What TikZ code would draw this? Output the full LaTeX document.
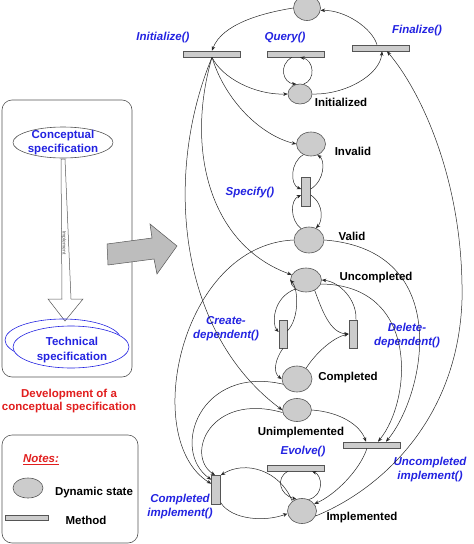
\documentclass[tikz,border=0pt]{standalone}
\usepackage{fontspec}
\setmainfont{Liberation Sans}
\usetikzlibrary{arrows.meta,shapes.geometric}
\definecolor{lblue}{RGB}{35,35,225}
\definecolor{lred}{RGB}{225,30,30}
\definecolor{sfill}{RGB}{204,204,204}
\definecolor{sline}{RGB}{85,85,85}
\begin{document}
\begin{tikzpicture}[x=1pt,y=-1pt,
  font=\fontsize{11.5}{14}\selectfont\bfseries,
  state/.style={ellipse,draw=sline,fill=sfill,line width=0.6pt,inner sep=0pt},
  method/.style={rectangle,draw=sline,fill=sfill,line width=0.6pt,inner sep=0pt},
  mlbl/.style={text=lblue,font=\fontsize{11.5}{14}\selectfont\bfseries\itshape,align=center},
  arc/.style={draw=black!85,line width=0.5pt,-{Stealth[length=4.5pt,width=3.6pt]}},
  panel/.style={draw=sline,line width=0.6pt,rounded corners=10pt}
]
\useasboundingbox (0,0) rectangle (474,544);

% ---------- left panel ----------
\draw[panel] (2,100) rectangle (132,377);
\node[ellipse,draw=sline,fill=white,line width=0.6pt,minimum width=100pt,minimum height=31pt,inner sep=0pt] (cs) at (63,142.5) {};
\node[text=lblue,align=center,font=\fontsize{11.5}{14.5}\selectfont\bfseries] (cstext) at (cs) {Conceptual\\specification};
\draw[sline,fill=white,line width=0.5pt] (61,159) -- (65,159) -- (71,299) -- (83,299) -- (65,321) -- (48,299) -- (62,299) -- cycle;
\node[rotate=-90,font=\fontsize{5}{6}\selectfont,text=black!70] (impltext) at (64,243) {Implement};
\node[ellipse,draw=lblue,line width=0.6pt,minimum width=116pt,minimum height=42pt,inner sep=0pt] (tsback) at (63,340) {};
\node[text=lblue,align=center,font=\fontsize{11.5}{14.5}\selectfont\bfseries] (tsbacktext) at (63,343) {Technical\\specification};
\node[ellipse,draw=lblue,fill=white,line width=0.6pt,minimum width=116pt,minimum height=42pt,inner sep=0pt] (ts) at (71,347) {};
\node[text=lblue,align=center,font=\fontsize{11.5}{14.5}\selectfont\bfseries] (tstext) at (72,350) {Technical\\specification};
\node[text=lred,align=center,font=\fontsize{11.5}{13.5}\selectfont\bfseries] (dev) at (69,401) {Development of a\\conceptual specification};

% big gray arrow
\draw[sline,fill=black!26,line width=0.5pt] (107,244) -- (152,238) -- (150,224) -- (177,246) -- (157,274) -- (154,259) -- (108,265) -- cycle;

% notes box
\draw[panel] (2,435) rectangle (138,543);
\node[text=lred,font=\fontsize{11.5}{14}\selectfont\bfseries\itshape] (notes) at (41,460) {\underline{Notes:}};
\node[state,minimum width=30pt,minimum height=20pt] (legS) at (28,488) {};
\node (legStext) at (94,493) {Dynamic state};
\node[method,minimum width=43pt,minimum height=5pt] (legM) at (27,518) {};
\node (legMtext) at (86,520) {Method};

% ---------- states ----------
\node[state,minimum width=27pt,minimum height=25pt] (top) at (307,8) {};
\node[state,minimum width=24pt,minimum height=20pt] (init) at (300,94) {};
\node[state,minimum width=29pt,minimum height=24pt] (invalid) at (311,144) {};
\node[state,minimum width=30pt,minimum height=26pt] (valid) at (309,240) {};
\node[state,minimum width=31pt,minimum height=24pt] (unc) at (306,280) {};
\node[state,minimum width=30pt,minimum height=26pt] (comp) at (297,379) {};
\node[state,minimum width=29pt,minimum height=23pt] (unimp) at (297,410) {};
\node[state,minimum width=29pt,minimum height=25pt] (impl) at (302,511) {};

% ---------- methods ----------
\node[method,minimum width=57pt,minimum height=6pt] (mInit) at (212,54) {};
\node[method,minimum width=57pt,minimum height=6pt] (mQuery) at (296,54) {};
\node[method,minimum width=57pt,minimum height=6pt] (mFin) at (381,48) {};
\node[method,minimum width=9pt,minimum height=29pt] (mSpec) at (306,192) {};
\node[method,minimum width=8pt,minimum height=28pt] (mCreate) at (283,334) {};
\node[method,minimum width=8pt,minimum height=28pt] (mDelete) at (353,334) {};
\node[method,minimum width=57pt,minimum height=6pt] (mUncImpl) at (372,445) {};
\node[method,minimum width=57pt,minimum height=6pt] (mEvolve) at (296,468) {};
\node[method,minimum width=9pt,minimum height=29pt] (mCompImpl) at (216,490) {};

% ---------- labels ----------
\node (lInit) at (341,102) {Initialized};
\node (lInvalid) at (353,151) {Invalid};
\node (lValid) at (352,236) {Valid};
\node (lUnc) at (376,278) {Uncompleted};
\node (lComp) at (348,378) {Completed};
\node (lUnimp) at (301,433) {Unimplemented};
\node (lImpl) at (362,518) {Implemented};
\node[mlbl] (lmInit) at (163,38) {Initialize()};
\node[mlbl] (lmQuery) at (285,38) {Query()};
\node[mlbl] (lmFin) at (417,31) {Finalize()};
\node[mlbl] (lmSpec) at (250,193) {Specify()};
\node[mlbl] (lmCreate) at (226,329) {Create-\\dependent()};
\node[mlbl] (lmDelete) at (407,336) {Delete-\\dependent()};
\node[mlbl] (lmUncImpl) at (430,470) {Uncompleted\\implement()};
\node[mlbl] (lmEvolve) at (303,452) {Evolve()};
\node[mlbl] (lmCompImpl) at (180,507) {Completed\\implement()};

% ---------- connectors ----------
\draw[arc] (top.west) .. controls (262,13) and (222,24) .. (mInit.north);
\draw[arc] ([xshift=-4pt]mFin.north) .. controls (372,28) and (345,10) .. (top.-10);
\draw[arc] (mInit.south) .. controls (222,78) and (255,95) .. (init.west);
\draw[arc] (init.east) .. controls (345,95) and (380,75) .. ([xshift=1pt]mFin.south);
\draw[arc] ([xshift=-4pt]mQuery.south) .. controls (278,65) and (283,83) .. (init.110);
\draw[arc] (init.70) .. controls (316,80) and (314,60) .. ([xshift=4pt]mQuery.south);
\draw[arc] (mInit.south) .. controls (225,100) and (260,135) .. (invalid.west);
\draw[arc] (mInit.south) .. controls (185,150) and (210,245) .. (unc.160);
\draw[arc] (mInit.south) .. controls (165,170) and (175,330) .. (unimp.west);

\draw[arc] (invalid.235) .. controls (290,162) and (290,185) .. ([yshift=3pt]mSpec.west);
\draw[arc] ([yshift=3pt]mSpec.east) .. controls (325,180) and (325,160) .. (invalid.-60);
\draw[arc] (valid.125) .. controls (290,220) and (290,200) .. ([yshift=-3pt]mSpec.west);
\draw[arc] ([yshift=-3pt]mSpec.east) .. controls (325,205) and (322,222) .. (valid.60);

\draw[arc] (unc.220) .. controls (272,298) and (272,325) .. ([yshift=2pt]mCreate.west);
\draw[arc] ([yshift=3pt]mCreate.east) .. controls (300,318) and (298,288) .. (unc.west);
\draw[arc] (mCreate.south) .. controls (276,358) and (272,372) .. (comp.west);
\draw[arc] (unc.-50) .. controls (322,310) and (330,333) .. (mDelete.west);
\draw[arc] (comp.50) .. controls (318,350) and (335,337) .. (mDelete.west);
\draw[arc] ([xshift=3pt]mDelete.north) .. controls (357,300) and (340,282) .. (unc.east);

\draw[arc] (valid.east) .. controls (455,250) and (425,395) .. ([xshift=14pt]mUncImpl.north);
\draw[arc] (unc.-15) .. controls (420,285) and (412,400) .. ([xshift=6pt]mUncImpl.north);
\draw[arc] (unimp.east) .. controls (340,412) and (360,425) .. ([xshift=-6pt]mUncImpl.north);
\draw[arc] ([xshift=-5pt]mUncImpl.south) .. controls (360,470) and (335,495) .. (impl.30);
\draw[arc] (impl.-20) .. controls (380,490) and (458,420) .. (462,300) .. controls (464,180) and (420,90) .. ([xshift=6pt]mFin.south);

\draw[arc] (valid.west) .. controls (180,245) and (140,440) .. ([yshift=-8.5pt]mCompImpl.north west);
\draw[arc] (comp.200) .. controls (200,365) and (170,450) .. ([yshift=-4.5pt]mCompImpl.north west);
\draw[arc] (unimp.190) .. controls (210,392) and (185,455) .. ([xshift=-1pt]mCompImpl.north);
\draw[arc] (impl.135) .. controls (280,470) and (245,460) .. (mCompImpl.north east);
\draw[arc] ([yshift=2pt]mCompImpl.south east) .. controls (232,520) and (265,522) .. (impl.190);

\draw[arc] ([xshift=-8pt]mEvolve.south) .. controls (275,478) and (280,495) .. (impl.115);
\draw[arc] (impl.60) .. controls (325,495) and (322,475) .. ([xshift=16pt]mEvolve.south);
\end{tikzpicture}
\end{document}
